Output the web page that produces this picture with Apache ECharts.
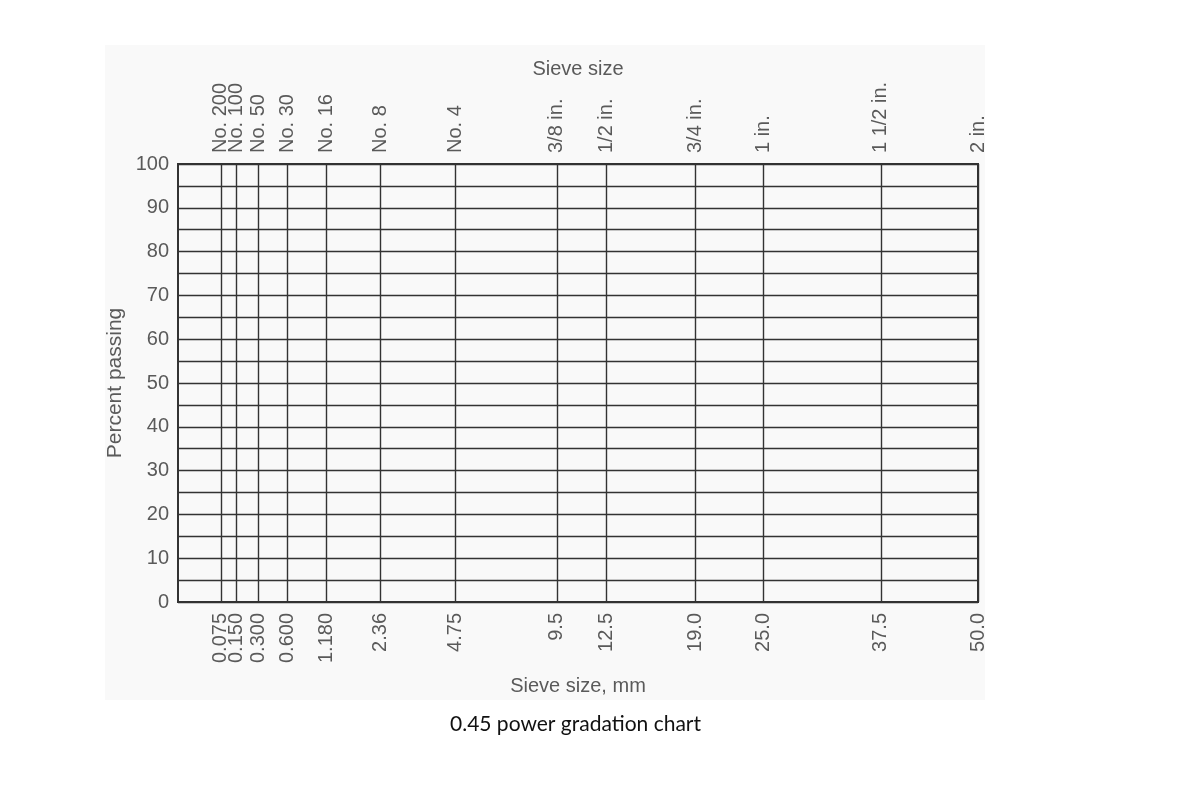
<!DOCTYPE html>
<html>
<head>
<meta charset="utf-8">
<script src="https://cdn.jsdelivr.net/npm/echarts@6/dist/echarts.min.js"></script>
<style>
html,body{margin:0;padding:0;background:#fff;}
#chart{width:1200px;height:785px;}
</style>
</head>
<body>
<div id="chart"></div>
<script>
// Sieve sizes (mm) and their names
const sieveMm = [0.075, 0.150, 0.300, 0.600, 1.180, 2.36, 4.75, 9.5, 12.5, 19.0, 25.0, 37.5, 50.0];
const mmLabels = ['0.075','0.150','0.300','0.600','1.180','2.36','4.75','9.5','12.5','19.0','25.0','37.5','50.0'];
const sieveNames = ['No. 200','No. 100','No. 50','No. 30','No. 16','No. 8','No. 4','3/8 in.','1/2 in.','3/4 in.','1 in.','1 1/2 in.','2 in.'];
const gradationPower = 0.45;
const yMin = 0, yMax = 100, yGridStep = 5, yLabelStep = 10;

const pos = sieveMm.map(d => Math.pow(d, gradationPower));
const xMax = Math.pow(50, gradationPower);
function idxOf(v){ for(let i=0;i<pos.length;i++){ if(Math.abs(pos[i]-v)<1e-6) return i; } return -1; }
const posEven = pos.filter((_, i) => i % 2 === 0);
const posOdd = pos.filter((_, i) => i % 2 === 1);

const font = 'Liberation Sans, Arial, Helvetica, sans-serif';
const txtColor = '#5a5a5a';
const lineColor = '#333333';

function makeAxis(position, values, labels, rotate, name, nameGap){
  return {
    type:'value', position:position, offset:0, min:0, max:xMax,
    name:name, nameLocation:'middle', nameGap:nameGap, nameMoveOverlap:false,
    nameTextStyle:{fontFamily:font, fontSize:20, color:txtColor},
    axisLine:{show:false}, axisTick:{show:false}, splitLine:{show:false},
    axisLabel:{
      customValues:values, rotate:rotate, margin:11, fontFamily:font, fontSize:20, color:txtColor,
      hideOverlap:false,
      formatter:function(v){ const i=idxOf(v); return i>=0?labels[i]:''; }
    }
  };
}

const chart = echarts.init(document.getElementById('chart'), null, {renderer:'canvas'});
chart.setOption({
  animation:false,
  backgroundColor:'#ffffff',
  graphic:[{type:'rect', z:-10, silent:true, shape:{x:105,y:45,width:880,height:655}, style:{fill:'#f9f9f9'}}],
  title:{
    text:'0.45 power gradation chart',
    left:445, top:709,
    textStyle:{fontFamily:'Lato, Open Sans, sans-serif', fontSize:21, fontWeight:'normal', color:'#111'}
  },
  grid:{left:178, right:222, top:164, height:438, show:true, borderColor:lineColor, borderWidth:2, backgroundColor:'transparent'},
  xAxis:[
    makeAxis('bottom', posEven, mmLabels, 90, 'Sieve size, mm', 74),
    makeAxis('bottom', posOdd, mmLabels, 90, '', 74),
    makeAxis('top', posEven, sieveNames, -90, 'Sieve size', 85),
    makeAxis('top', posOdd, sieveNames, -90, '', 85)
  ],
  yAxis:{
    type:'value', min:yMin, max:yMax, interval:yGridStep,
    name:'Percent passing', nameLocation:'middle', nameGap:52, nameRotate:90, nameMoveOverlap:false,
    nameTextStyle:{fontFamily:font, fontSize:21, color:txtColor},
    axisLine:{show:false}, axisTick:{show:false},
    splitLine:{show:true, lineStyle:{color:lineColor, width:1.4}},
    axisLabel:{
      margin:9, fontFamily:font, fontSize:20, color:txtColor,
      formatter:function(v){ return (Math.round(v)%yLabelStep===0)?String(Math.round(v)):''; }
    }
  },
  series:[{
    type:'lines', coordinateSystem:'cartesian2d', xAxisIndex:0, yAxisIndex:0,
    silent:true, polyline:false,
    lineStyle:{color:lineColor, width:1.4, opacity:1},
    data: pos.map(u => ({coords:[[u,yMin],[u,yMax]]}))
  }]
});
</script>
</body>
</html>
